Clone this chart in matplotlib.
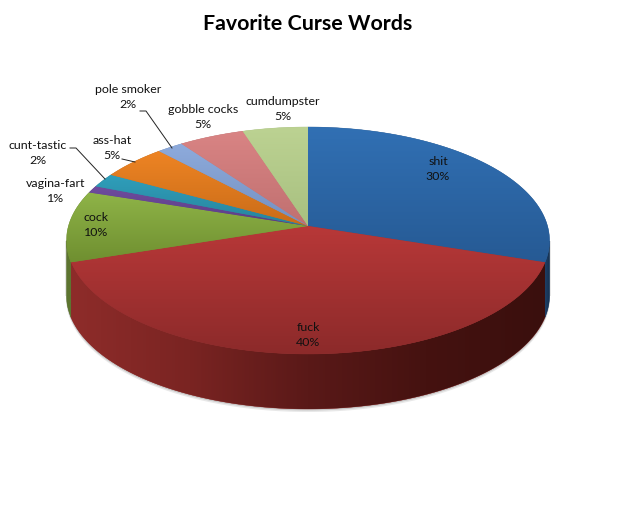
import numpy as np
import matplotlib
matplotlib.use("Agg")
import matplotlib.pyplot as plt
from matplotlib.patches import Polygon
from matplotlib.colors import LinearSegmentedColormap

title = "Favorite Curse Words"
categories = ["shit", "fuck", "cock", "vagina-fart", "cunt-tastic", "ass-hat",
              "pole smoker", "gobble cocks", "cumdumpster"]
values = [30, 40, 10, 1, 2, 5, 2, 5, 5]
top_light = ["#3170b4", "#b83838", "#8fb448", "#6f4c9e", "#2f9fbb", "#ee8424",
             "#8eabdc", "#d98484", "#bcd292"]
top_dark = ["#265a94", "#8c2a2a", "#6f8f30", "#5a3d85", "#27839c", "#c96c18",
            "#7490c0", "#c07070", "#a8c080"]
wall_colors = {0: ["#1e3f66", "#16304f"],
               1: ["#8e2c2a", "#7a2422", "#5a1918", "#451210", "#3a0f0d"],
               2: ["#5d7530", "#5d7530"]}
label_xy = [(438, 169), (308, 335), (96, 225), (56, 191), (38, 153), (112, 148),
            (128, 97), (203, 117), (283, 109)]
leaders = [[(140, 111), (146, 111), (172, 148)],
           [(122, 159), (135, 162)],
           [(70, 148), (76, 148), (105, 179)]]

CX, CY, RX, RY = 308.0, 240.5, 241.5, 113.5
AX, AY = 308.0, 226.0
DEPTH = 55.0
K = 0.472

def rim(theta):
    """Projected point where the slice boundary at angle theta meets the rim."""
    dx, dy = np.sin(theta), -K * np.cos(theta)
    ox, oy = (AX - CX) / RX, (AY - CY) / RY
    ux, uy = dx / RX, dy / RY
    a = ux**2 + uy**2
    b = 2 * (ox * ux + oy * uy)
    c = ox**2 + oy**2 - 1
    s = (-b + np.sqrt(b**2 - 4 * a * c)) / (2 * a)
    return AX + s * dx, AY + s * dy

fig = plt.figure(figsize=(6.17, 5.20), dpi=100)
ax = fig.add_axes([0, 0, 1, 1])
ax.set_xlim(0, 617)
ax.set_ylim(520, 0)
ax.axis("off")

frac = np.cumsum([0] + values) / sum(values)
angles = 2 * np.pi * frac

# soft shadow
tt = np.linspace(0, 2 * np.pi, 400)
for off, col in ((3.0, "#e8e8e8"), (1.5, "#c8c8c8")):
    ax.fill(CX + (RX + 0.3) * np.cos(tt), CY + DEPTH + off + RY * np.sin(tt),
            color=col, lw=0, zorder=0.5)
    ax.fill([CX - RX - off * 0.6, CX + RX + off * 0.6, CX + RX + off * 0.6, CX - RX - off * 0.6],
            [CY, CY, CY + DEPTH, CY + DEPTH], color=col, lw=0, zorder=0.5)

# side wall: one polygon per visible slice, with a horizontal gradient
hgrad = np.linspace(0, 1, 256).reshape(1, -1)
for i, cols in wall_colors.items():
    th = np.linspace(angles[i], angles[i + 1], 400)
    xs, ys = rim(th)
    keep = ys >= CY
    xs, ys = xs[keep], ys[keep]
    pts = list(zip(xs, ys)) + list(zip(xs[::-1], ys[::-1] + DEPTH))
    poly = Polygon(pts, closed=True, facecolor=cols[0], edgecolor=cols[0], lw=0.3, zorder=1)
    ax.add_patch(poly)
    cmap = LinearSegmentedColormap.from_list("w", cols)
    im = ax.imshow(hgrad, cmap=cmap, extent=(xs.min(), xs.max(), ys.max() + DEPTH, ys.min()),
                   aspect="auto", zorder=1.1, interpolation="bilinear")
    im.set_clip_path(poly)

# top faces: vertical gradient clipped to each slice
grad = np.linspace(0, 1, 256).reshape(-1, 1)
for i in range(len(values)):
    th = np.linspace(angles[i], angles[i + 1], 200)
    xs, ys = rim(th)
    pts = [(AX, AY)] + list(zip(xs, ys))
    poly = Polygon(pts, closed=True, facecolor=top_dark[i], edgecolor=top_dark[i], lw=0.3, zorder=2)
    ax.add_patch(poly)
    cmap = LinearSegmentedColormap.from_list("s", [top_light[i], top_dark[i]])
    top_y, bot_y = min(ys.min(), AY), max(ys.max(), AY)
    xs_all = list(xs) + [AX]
    im = ax.imshow(grad, cmap=cmap, extent=(min(xs_all), max(xs_all), bot_y, top_y),
                   aspect="auto", zorder=2.1, interpolation="bilinear")
    im.set_clip_path(poly)
ax.set_xlim(0, 617)
ax.set_ylim(520, 0)

for line in leaders:
    ax.plot([p[0] for p in line], [p[1] for p in line], color="#222222", lw=0.7, zorder=3)

for name, v, (x, y) in zip(categories, values, label_xy):
    ax.text(x, y, f"{name}\n{v}%", ha="center", va="center", family="Lato",
            fontsize=8.9, color="#111111", linespacing=1.5, zorder=4)

ax.text(308, 24, title, ha="center", va="center", family="Lato", fontweight="bold",
        fontsize=15.4, color="black", zorder=4)

fig.savefig("out.png", dpi=100, facecolor="white")
